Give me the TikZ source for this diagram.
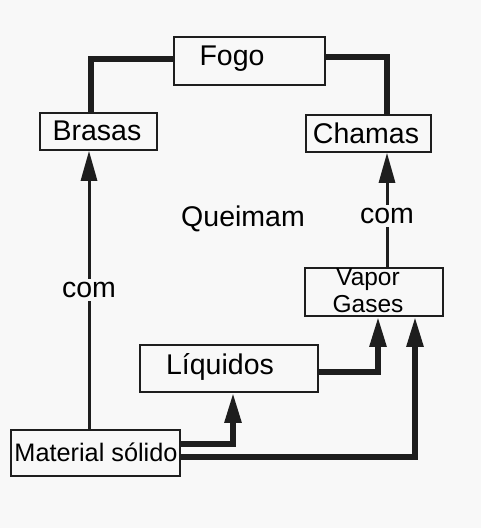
\documentclass[tikz,border=0pt]{standalone}
\usepackage{fontspec}
\setmainfont{Liberation Sans}
\usetikzlibrary{arrows.meta}
\definecolor{bg}{RGB}{248,248,248}
\definecolor{ink}{RGB}{30,30,30}
\begin{document}
\begin{tikzpicture}[x=1pt,y=-1pt,
  box/.style={draw=ink, line width=1.6pt, rectangle, inner sep=0pt},
  txt/.style={inner sep=0pt, text=black, font=\fontsize{28.5}{30}\selectfont},
  small/.style={inner sep=0pt, text=black, font=\fontsize{25.3}{26}\selectfont},
  thickline/.style={draw=ink, line width=5.5pt},
  thinline/.style={draw=ink, line width=3pt},
  tip/.style={-{Triangle[length=30pt,width=16pt]}}
]
\fill[bg] (0,0) rectangle (481,528);
\useasboundingbox (0,0) rectangle (481,528);

% boxes
\node[box, minimum width=151pt, minimum height=48pt] (fogo) at (249.5,61) {};
\node[box, minimum width=117pt, minimum height=37pt] (brasas) at (98.5,131.5) {};
\node[box, minimum width=125pt, minimum height=37pt] (chamas) at (368.5,133.5) {};
\node[box, minimum width=138pt, minimum height=48pt] (vapor) at (374,292) {};
\node[box, minimum width=178pt, minimum height=47pt] (liq) at (229,368.5) {};
\node[box, minimum width=169pt, minimum height=46pt] (mat) at (95.5,453) {};

% texts
\node[txt] (tfogo) at (232,59) {Fogo};
\node[txt] (tbrasas) at (97,131) {Brasas};
\node[txt] (tchamas) at (366,133) {Chamas};
\node[txt] (tliq) at (220,367) {Líquidos};
\node[small] (tmat) at (96,452) {Material sólido};
\node[txt] (tqueimam) at (243,219) {Queimam};
\node[small, align=center, font=\fontsize{24.5}{27}\selectfont] (tvapor) at (368,291) {Vapor\\Gases};

% connectors
\draw[thickline] ([yshift=2pt]fogo.west) -| ([xshift=-7.5pt]brasas.north);
\draw[thickline] ([yshift=4pt]fogo.east) -| ([xshift=18.5pt]chamas.north);
\draw[thinline, tip] ([xshift=-6.5pt]mat.north) -- ([xshift=-9.5pt]brasas.south)
  node[pos=0.5, txt, fill=bg, inner sep=3pt] (com1) {com};
\draw[thinline, tip] ([xshift=13pt]vapor.north) -- ([xshift=18.5pt]chamas.south)
  node[pos=0.45, txt, fill=bg, inner sep=3pt] (com2) {com};
\draw[thickline, tip] ([yshift=9pt]mat.east) -| ([xshift=4pt]liq.south);
\draw[thickline, tip] ([yshift=-3.5pt]liq.east) -| ([xshift=4pt]vapor.south);
\draw[thickline, tip] ([yshift=-4pt]mat.east) -| ([xshift=41pt]vapor.south);
\end{tikzpicture}
\end{document}
